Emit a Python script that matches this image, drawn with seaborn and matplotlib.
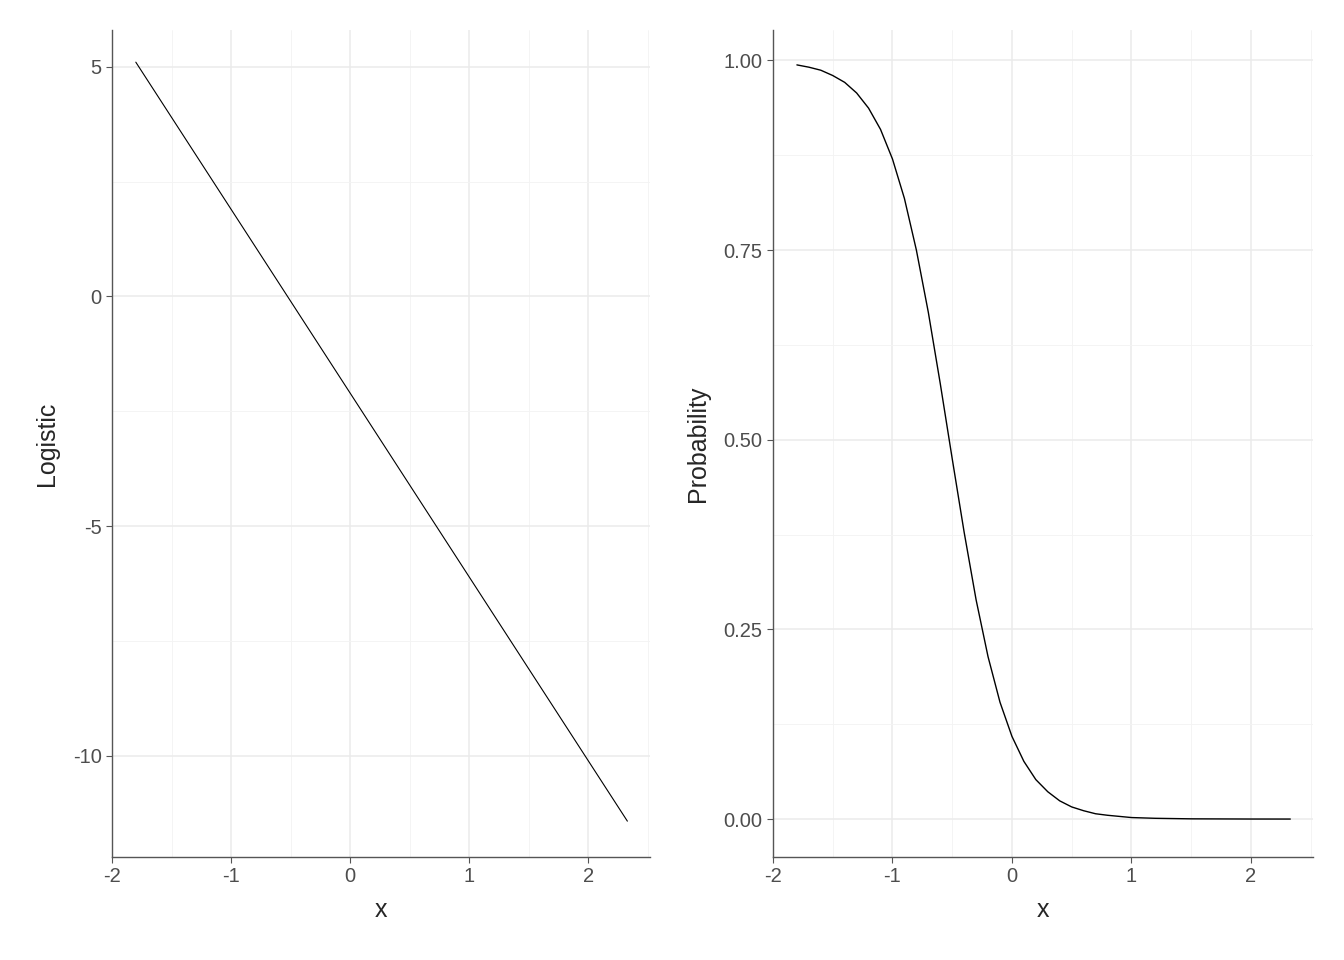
import matplotlib
matplotlib.use("Agg")
import matplotlib.pyplot as plt
import seaborn as sns
import pandas as pd
from matplotlib.ticker import MultipleLocator, FixedLocator

x_vals = [-1.8, -1.7, -1.6, -1.5, -1.4, -1.3, -1.2, -1.1, -1.0, -0.9, -0.8, -0.7,
          -0.6, -0.5, -0.4, -0.3, -0.2, -0.1, 0.0, 0.1, 0.2, 0.3, 0.4, 0.5, 0.6,
          0.7, 0.8, 1.0, 1.2, 1.5, 2.0, 2.33]
logistic = [5.1, 4.7, 4.3, 3.9, 3.5, 3.1, 2.7, 2.3, 1.9, 1.5, 1.1, 0.7,
            0.3, -0.1, -0.5, -0.9, -1.3, -1.7, -2.1, -2.5, -2.9, -3.3, -3.7, -4.1, -4.5,
            -4.9, -5.3, -6.1, -6.9, -8.1, -10.1, -11.42]
probability = [0.994, 0.991, 0.987, 0.980, 0.971, 0.957, 0.937, 0.909, 0.870, 0.818,
               0.750, 0.668, 0.574, 0.475, 0.378, 0.289, 0.214, 0.154, 0.109, 0.076,
               0.052, 0.036, 0.024, 0.016, 0.011, 0.007, 0.005, 0.002, 0.001, 0.0003,
               0.00004, 0.00001]

df = pd.DataFrame({"x": x_vals, "Logistic": logistic, "Probability": probability})

sns.set_style("white")
plt.rcParams["font.family"] = ["Liberation Sans", "DejaVu Sans"]

fig = plt.figure(figsize=(13.44, 9.6), dpi=100)
ax1 = fig.add_axes([112 / 1344, 1 - 857 / 960, 538 / 1344, 827 / 960])
ax2 = fig.add_axes([773 / 1344, 1 - 857 / 960, 540 / 1344, 827 / 960])

sns.lineplot(data=df, x="x", y="Logistic", ax=ax1, color="black", linewidth=0.8)
sns.lineplot(data=df, x="x", y="Probability", ax=ax2, color="black", linewidth=1.0)

ax1.set_ylim(-12.2, 5.8)
ax1.yaxis.set_major_locator(FixedLocator([-10, -5, 0, 5]))
ax1.yaxis.set_minor_locator(FixedLocator([-7.5, -2.5, 2.5]))
ax1.set_yticklabels(["-10", "-5", "0", "5"])
ax2.set_ylim(-0.05, 1.04)
ax2.yaxis.set_major_locator(FixedLocator([0, 0.25, 0.5, 0.75, 1.0]))
ax2.yaxis.set_minor_locator(FixedLocator([0.125, 0.375, 0.625, 0.875]))
ax2.set_yticklabels(["0.00", "0.25", "0.50", "0.75", "1.00"])

for ax in (ax1, ax2):
    ax.set_xlim(-2.0, 2.52)
    ax.xaxis.set_major_locator(FixedLocator([-2, -1, 0, 1, 2]))
    ax.xaxis.set_minor_locator(MultipleLocator(0.5))
    ax.set_xticklabels(["-2", "-1", "0", "1", "2"])
    ax.grid(which="major", color="#ebebeb", linewidth=1.1)
    ax.grid(which="minor", color="#f3f3f3", linewidth=0.6)
    ax.set_axisbelow(True)
    for s in ("top", "right"):
        ax.spines[s].set_visible(False)
    for s in ("left", "bottom"):
        ax.spines[s].set_color("#555555")
        ax.spines[s].set_linewidth(1.0)
    ax.tick_params(which="major", length=4, color="#555555", labelsize=14.5,
                   labelcolor="#4d4d4d", left=True, bottom=True)
    ax.tick_params(which="minor", length=0)
    ax.set_xlabel("x", fontsize=18, labelpad=8)
    ax.yaxis.label.set_size(18)
    ax.yaxis.labelpad = 10

fig.savefig("out.png", dpi=100)
